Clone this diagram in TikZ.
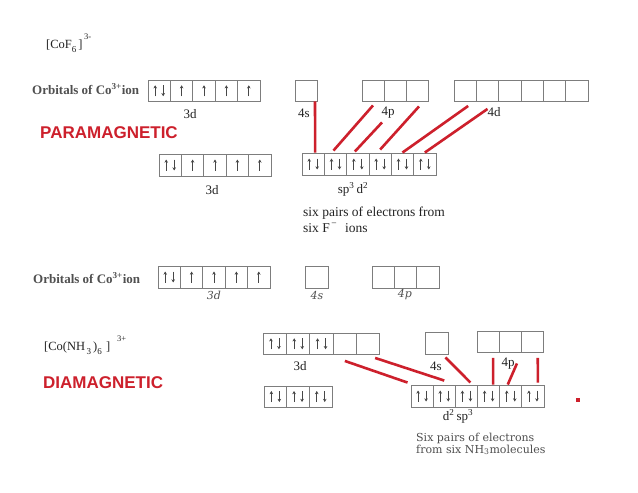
\documentclass[tikz,border=0pt]{standalone}
\usepackage{fontspec}
\setmainfont{Liberation Serif}
\newfontfamily\magfont{Liberation Sans}
\newfontfamily\dvserif{DejaVu Serif}
\usetikzlibrary{calc,arrows.meta}
\definecolor{redc}{RGB}{205,32,44}
\definecolor{boxc}{RGB}{125,125,125}
\definecolor{txtc}{RGB}{35,35,35}
\definecolor{orbc}{RGB}{80,80,80}
\tikzset{
  orb/.style={draw=boxc, line width=0.9pt, inner sep=0pt},
  spin/.style={draw=black!72, line width=0.75pt, -{Stealth[length=3.2pt,width=3.6pt]}},
  link/.style={draw=redc, line width=2.6pt},
  lab/.style={inner sep=0pt, font=\fontsize{13}{13}\selectfont, text=txtc},
  itl/.style={inner sep=0pt, font=\dvserif\itshape\fontsize{11}{11}\selectfont, text=orbc},
  orbtxt/.style={inner sep=0pt, font=\bfseries\fontsize{13}{13}\selectfont, text=orbc},
  title/.style={inner sep=0pt, font=\fontsize{12.5}{12.5}\selectfont, text=txtc},
  magn/.style={inner sep=0pt, font=\magfont\bfseries\fontsize{17}{17}\selectfont, text=redc},
  note/.style={inner sep=0pt, font=\fontsize{13.5}{13.5}\selectfont, text=txtc},
  bot/.style={inner sep=0pt, font=\dvserif\fontsize{11}{11}\selectfont, text=orbc},
}
% spin contents of a box, drawn from the box's centre
\newcommand{\spinud}[1]{%
  \draw[spin] ([xshift=-4pt,yshift=-5.5pt]#1.center) -- ([xshift=-4pt,yshift=5.5pt]#1.center);
  \draw[spin] ([xshift=4pt,yshift=5.5pt]#1.center) -- ([xshift=4pt,yshift=-5.5pt]#1.center);}
\newcommand{\spinu}[1]{%
  \draw[spin] ([yshift=-5.5pt]#1.center) -- ([yshift=5.5pt]#1.center);}
\newcommand{\spinn}[1]{}
\newcommand{\orbrow}[6]{%
  \foreach \c [count=\i] in {#6} {%
    \node[orb, minimum width=#4pt, minimum height=#5pt] (#1\i) at ({#2+(\i-0.5)*#4},{#3+#5/2}) {};
    \c{#1\i}
  }}
\newcommand{\lowsub}[1]{\raisebox{-4.5pt}{\fontsize{9}{9}\selectfont #1}}
\newcommand{\highsup}[1]{\raisebox{8.5pt}{\fontsize{8.5}{8.5}\selectfont #1}}
\begin{document}
\begin{tikzpicture}[x=1pt,y=-1pt]
\useasboundingbox[fill=white] (0,0) rectangle (638,493);

% ---------- top: [CoF6]3-
\node[title, anchor=base west] (tcof) at (46,48) {[CoF\lowsub{6}\,]\highsup{\,3-}};
\node[orbtxt, anchor=west] (orb1) at (32,89) {Orbitals of Co\textsuperscript{3+}ion};
\orbrow{t3d}{148}{80}{22.4}{21.5}{\spinud,\spinu,\spinu,\spinu,\spinu}
\orbrow{t4s}{295}{80}{22}{21}{\spinn}
\orbrow{t4p}{362}{80}{22}{21}{\spinn,\spinn,\spinn}
\orbrow{t4d}{454}{80}{22.33}{21.5}{\spinn,\spinn,\spinn,\spinn,\spinn,\spinn}
\node[lab] (l3d) at (190,114) {3d};
\node[lab] (l4s) at (304,113) {4s};
\node[lab] (l4p) at (388,113) {4p};
\node[lab] (l4d) at (494,112) {4d};
\node[magn, anchor=base west] (para) at (40,138) {PARAMAGNETIC};

\orbrow{h3d}{159}{154}{22.4}{22}{\spinud,\spinu,\spinu,\spinu,\spinu}
\orbrow{h}{302}{153}{22.33}{22}{\spinud,\spinud,\spinud,\spinud,\spinud,\spinud}
\node[lab] (hl3d) at (212,190) {3d};
\node[lab, anchor=base] (lsp) at (353,193) {sp\textsuperscript{3}\,d\textsuperscript{2}};
\node[note, anchor=base west] (six1) at (303,216) {six pairs of electrons from};
\node[note, anchor=base west] (six1b) at (303,232) {six F\textsuperscript{\,−}\,\, ions};

\draw[link] ([xshift=9pt]t4s1.south) -- ([xshift=2pt]h1.north);
\draw[link] ([yshift=-4pt]t4p1.south) -- ([xshift=-2pt,yshift=2pt]h2.north);
\draw[link] ([xshift=-13pt,yshift=-21pt]t4p2.south) -- ([xshift=-3pt,yshift=1pt]h3.north);
\draw[link] ([xshift=2pt,yshift=-5pt]t4p3.south) -- ([yshift=3pt]h4.north);
\draw[link] ([xshift=3pt,yshift=-4pt]t4d1.south) -- (h5.north);
\draw[link] ([yshift=-7pt]t4d2.south) -- (h6.north);

% ---------- middle
\node[orbtxt, anchor=west] (orb2) at (33,278) {Orbitals of Co\textsuperscript{3+}ion};
\orbrow{m3d}{158}{266}{22.4}{22}{\spinud,\spinu,\spinu,\spinu,\spinu}
\orbrow{m4s}{305}{266}{23}{22}{\spinn}
\orbrow{m4p}{372}{266}{22.33}{22}{\spinn,\spinn,\spinn}
\node[itl] (m3dl) at (214,295) {3d};
\node[itl] (m4sl) at (317,295) {4s};
\node[itl] (m4pl) at (405,295) {4p};

% ---------- bottom: [Co(NH3)6]3+
\node[title, anchor=base west] (tnh) at (44,350) {[Co(NH\lowsub{\,3}\,)\lowsub{6}\,\,]\hspace{7pt}\highsup{3+}};
\node[magn, anchor=base west] (dia) at (43,388) {DIAMAGNETIC};
\orbrow{b3d}{263.3}{333}{23.3}{21.5}{\spinud,\spinud,\spinud,\spinn,\spinn}
\orbrow{bl3d}{264}{386}{22.7}{21}{\spinud,\spinud,\spinud}
\orbrow{b4s}{425}{332}{23}{22}{\spinn}
\orbrow{b4p}{477}{331}{22.3}{21.5}{\spinn,\spinn,\spinn}
\orbrow{bh}{411}{385}{22.17}{22}{\spinud,\spinud,\spinud,\spinud,\spinud,\spinud}
\node[lab] (b3dl) at (300,366) {3d};
\node[lab] (b4sl) at (436,366) {4s};
\node[lab] (b4pl) at (508,364) {4p};
\node[lab, anchor=base] (ld2) at (458,420) {d\textsuperscript{2}\,sp\textsuperscript{3}};
\node[bot, anchor=base west] (six2) at (416,441) {Six pairs of electrons};
\node[bot, anchor=base west] (six2b) at (416,453) {from six NH\textsubscript{3}molecules};

\draw[link] ([yshift=-6pt]b3d4.south) -- ([xshift=-3pt,yshift=2pt]bh1.north west);
\draw[link] ([xshift=7pt,yshift=-3pt]b3d5.south) -- ([yshift=4pt]bh2.north);
\draw[link] ([xshift=9pt,yshift=-3pt]b4s1.south) -- ([xshift=4pt,yshift=2pt]bh3.north);
\draw[link] ([xshift=5pt,yshift=-5pt]b4p1.south) -- ([xshift=4.5pt]bh4.north);
\draw[link] ([xshift=6.5pt,yshift=-10.5pt]b4p2.south) -- ([xshift=-3pt]bh5.north);
\draw[link] ([xshift=5pt,yshift=-5pt]b4p3.south) -- ([xshift=5pt,yshift=2pt]bh6.north);

\fill[redc] (576,398) rectangle (580,401.5);
\end{tikzpicture}
\end{document}
